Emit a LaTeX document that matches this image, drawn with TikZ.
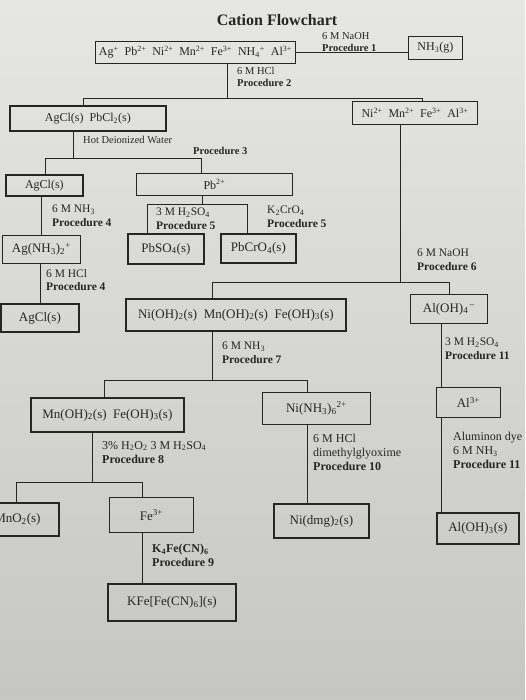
\documentclass[tikz,border=0pt]{standalone}
\usepackage{fontspec}
\setmainfont{Liberation Serif}
\definecolor{ink}{RGB}{38,38,38}
\definecolor{papertop}{RGB}{230,230,228}
\definecolor{paperbot}{RGB}{198,198,196}
\newcommand\szLa{\fontsize{10.5}{12}\selectfont}
\newcommand\szLb{\fontsize{11.5}{13.5}\selectfont}
\newcommand\szLc{\fontsize{12}{14}\selectfont}
\newcommand\szBa{\fontsize{12}{14}\selectfont}
\newcommand\szBb{\fontsize{13}{15}\selectfont}
\newcommand\up[1]{\textsuperscript{#1}}
\newcommand\dn[1]{\textsubscript{#1}}
\begin{document}
\begin{tikzpicture}[x=1pt,y=-1pt,
  box/.style={draw=ink, line width=0.8pt, rectangle, inner sep=0pt, anchor=north west, text=ink},
  pbox/.style={box, line width=1.8pt},
  lbl/.style={anchor=north west, inner sep=0pt, align=left, text=ink},
  conn/.style={draw=ink, line width=0.7pt}]
\useasboundingbox (0,0) rectangle (525,700);
\clip (0,0) rectangle (525,700);
\shade[top color=papertop, bottom color=paperbot] (0,0) rectangle (525,700);

\node[text=ink, font=\fontsize{16}{18}\selectfont\bfseries] (title) at (277,20) {Cation Flowchart};

% boxes
\node[box, minimum width=200, minimum height=22, font=\szBa] (ions) at (95,41)
  {Ag\up{+}\ \ Pb\up{2+}\ \ Ni\up{2+}\ \ Mn\up{2+}\ \ Fe\up{3+}\ \ NH\dn{4}\up{+}\ \ Al\up{3+}};
\node[box, minimum width=54, minimum height=23, font=\szBa] (nh3) at (408,36) {NH\dn{3}(g)};
\node[pbox, minimum width=156, minimum height=25, font=\szBa] (agpb) at (9,105) {AgCl(s)\ \ PbCl\dn{2}(s)};
\node[box, minimum width=125, minimum height=23, font=\szBa] (nimix) at (352,101) {Ni\up{2+}\ \ Mn\up{2+}\ \ Fe\up{3+}\ \ Al\up{3+}};
\node[pbox, minimum width=77, minimum height=21, font=\szBa] (agcl1) at (5,174) {AgCl(s)};
\node[box, minimum width=156, minimum height=22, font=\szBa] (pb) at (136,173) {Pb\up{2+}};
\node[box, minimum width=78, minimum height=28, font=\szBb] (agnh) at (2,235) {Ag(NH\dn{3})\dn{2}\up{+}};
\node[pbox, minimum width=76, minimum height=30, font=\szBb] (pbso4) at (127,233) {PbSO\dn{4}(s)};
\node[pbox, minimum width=75, minimum height=29, font=\szBb] (pbcro4) at (220,233) {PbCrO\dn{4}(s)};
\node[pbox, minimum width=78, minimum height=28, font=\szBb] (agcl2) at (0,303) {AgCl(s)};
\node[pbox, minimum width=220, minimum height=32, font=\szBb] (nioh) at (125,298)
  {Ni(OH)\dn{2}(s)\ \ Mn(OH)\dn{2}(s)\ \ Fe(OH)\dn{3}(s)};
\node[box, minimum width=77, minimum height=29, font=\szBb] (aloh4) at (410,294) {Al(OH)\dn{4}\up{\,–}};
\node[pbox, minimum width=153, minimum height=34, font=\szBb] (mnfe) at (30,397) {Mn(OH)\dn{2}(s)\ \ Fe(OH)\dn{3}(s)};
\node[box, minimum width=108, minimum height=32, font=\szBb] (ninh) at (262,392) {Ni(NH\dn{3})\dn{6}\up{2+}};
\node[box, minimum width=64, minimum height=30, font=\szBb] (al3) at (436,387) {Al\up{3+}};
\node[pbox, minimum width=83, minimum height=33, font=\szBb] (mno2) at (-25,502) {MnO\dn{2}(s)};
\node[box, minimum width=84, minimum height=35, font=\szBb] (fe3) at (109,497) {Fe\up{3+}};
\node[pbox, minimum width=95, minimum height=34, font=\szBb] (nidmg) at (273,503) {Ni(dmg)\dn{2}(s)};
\node[pbox, minimum width=82, minimum height=31, font=\szBb] (aloh3) at (436,512) {Al(OH)\dn{3}(s)};
\node[pbox, minimum width=128, minimum height=37, font=\szBb] (kfe) at (107,583) {KFe[Fe(CN)\dn{6}](s)};

% junction coordinates
\coordinate (j2) at (227,98);
\coordinate (j2l) at (83,98);
\coordinate (j2r) at (422,98);
\coordinate (j3) at (73,158);
\coordinate (j3l) at (45,158);
\coordinate (j3r) at (201,158);
\coordinate (j5) at (202,204);
\coordinate (j5l) at (147,204);
\coordinate (j5r) at (247,204);
\coordinate (j6) at (400,282);
\coordinate (j6l) at (212,282);
\coordinate (j7) at (212,380);
\coordinate (j7l) at (104,380);
\coordinate (j7r) at (307,380);
\coordinate (j8) at (92,482);
\coordinate (j8l) at (16,482);
\coordinate (j8r) at (142,482);
\coordinate (xal) at (441,0);

% connectors
\draw[conn] (ions.east) -- (ions.east -| nh3.west);
\draw[conn] (ions.south -| j2) -- (j2);
\draw[conn] (agpb.north -| j2l) -- (j2l) -- (j2r) -- (nimix.north -| j2r);
\draw[conn] (agpb.south -| j3) -- (j3);
\draw[conn] (agcl1.north -| j3l) -- (j3l) -- (j3r) -- (pb.north -| j3r);
\draw[conn] (agcl1.south -| agnh.north) -- (agnh.north);
\draw[conn] (agnh.south -| agcl2.north) -- (agcl2.north);
\draw[conn] (pb.south -| j5) -- (j5);
\draw[conn] (pbso4.north -| j5l) -- (j5l) -- (j5r) -- (pbcro4.north -| j5r);
\draw[conn] (nimix.south -| j6) -- (j6);
\draw[conn] (nioh.north -| j6l) -- (j6l) -- (j6l -| aloh4.north) -- (aloh4.north);
\draw[conn] (aloh4.south -| xal) -- (al3.north -| xal);
\draw[conn] (al3.south -| xal) -- (aloh3.north -| xal);
\draw[conn] (nioh.south -| j7) -- (j7);
\draw[conn] (mnfe.north -| j7l) -- (j7l) -- (j7r) -- (ninh.north -| j7r);
\draw[conn] (ninh.south -| j7r) -- (nidmg.north -| j7r);
\draw[conn] (mnfe.south -| j8) -- (j8);
\draw[conn] (mno2.north -| j8l) -- (j8l) -- (j8r) -- (fe3.north -| j8r);
\draw[conn] (fe3.south -| j8r) -- (kfe.north -| j8r);

% labels
\node[lbl, font=\szLa] (l1) at (322,32) {6 M NaOH\\\textbf{Procedure 1}};
\node[lbl, font=\szLa] (l2) at (237,67) {6 M HCl\\\textbf{Procedure 2}};
\node[lbl, font=\szLa] (l3) at (83,136) {Hot Deionized Water};
\node[lbl, font=\szLa] (l3b) at (193,147) {\textbf{Procedure 3}};
\node[lbl, font=\szLb] (l4) at (52,205) {6 M NH\dn{3}\\\textbf{Procedure 4}};
\node[lbl, font=\szLb] (l5) at (156,208) {3 M H\dn{2}SO\dn{4}\\\textbf{Procedure 5}};
\node[lbl, font=\szLb] (l5b) at (267,206) {K\dn{2}CrO\dn{4}\\\textbf{Procedure 5}};
\node[lbl, font=\szLb] (l4b) at (46,269) {6 M HCl\\\textbf{Procedure 4}};
\node[lbl, font=\szLb] (l6) at (417,249) {6 M NaOH\\\textbf{Procedure 6}};
\node[lbl, font=\szLb] (l7) at (222,342) {6 M NH\dn{3}\\\textbf{Procedure 7}};
\node[lbl, font=\szLc] (l8) at (102,441) {3\% H\dn{2}O\dn{2} 3 M H\dn{2}SO\dn{4}\\\textbf{Procedure 8}};
\node[lbl, font=\szLc] (l9) at (152,544) {\textbf{K\dn{4}Fe(CN)\dn{6}}\\\textbf{Procedure 9}};
\node[lbl, font=\szLc] (l10) at (313,434) {6 M HCl\\dimethylglyoxime\\\textbf{Procedure 10}};
\node[lbl, font=\szLb] (l11) at (445,338) {3 M H\dn{2}SO\dn{4}\\\textbf{Procedure 11}};
\node[lbl, font=\szLc] (l11b) at (453,432) {Aluminon dye\\6 M NH\dn{3}\\\textbf{Procedure 11}};
\end{tikzpicture}
\end{document}
